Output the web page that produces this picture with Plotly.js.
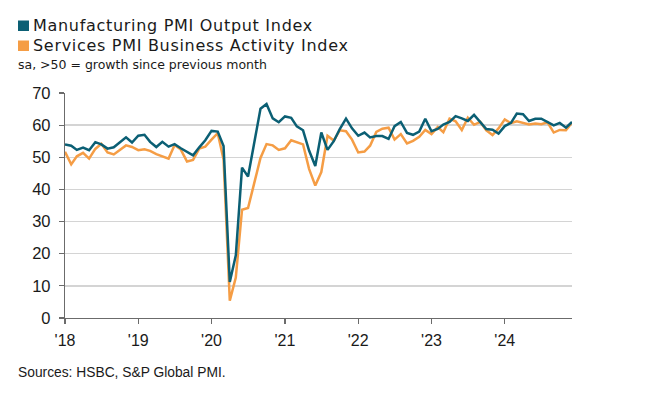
<!DOCTYPE html>
<html>
<head>
<meta charset="utf-8">
<script src="https://cdn.plot.ly/plotly-3.0.1.min.js"></script>
<style>
html,body{margin:0;padding:0;background:#fff;}
#chart{width:655px;height:395px;}
</style>
</head>
<body>
<div id="chart"></div>
<script>
// Monthly data, Jan 2018 - Dec 2024
const years = [2018, 2019, 2020, 2021, 2022, 2023, 2024];

const manufacturing = [
  54.0, 53.6, 52.3, 53.0, 52.2, 54.7, 54.0, 52.7, 53.1, 54.5, 56.2, 54.6,
  56.7, 57.0, 54.8, 53.2, 54.8, 53.3, 54.1, 52.8, 51.6, 50.6, 53.1, 55.3,
  58.2, 58.0, 53.5, 11.2, 19.5, 46.8, 44.0, 54.5, 65.1, 66.6, 62.1, 60.9,
  62.7, 62.3, 59.6, 58.4, 52.1, 47.3, 57.7, 52.3, 55.0, 58.8, 62.0, 59.0,
  56.7, 57.7, 56.2, 56.6, 56.6, 55.7, 59.7, 61.0, 57.6, 57.0, 58.0, 62.0,
  58.1, 58.8, 60.2, 61.0, 62.8, 62.1, 61.3, 63.2, 61.0, 58.8, 58.6, 57.4,
  59.7, 60.7, 63.6, 63.4, 61.3, 62.0, 62.0, 61.0, 59.9, 60.7, 59.2, 61.0
];

const services = [
  51.7, 47.8, 50.3, 51.4, 49.6, 52.6, 54.2, 51.5, 50.9, 52.2, 53.7, 53.2,
  52.2, 52.5, 52.0, 51.0, 50.2, 49.6, 53.8, 52.4, 48.7, 49.2, 52.7, 53.3,
  55.5, 57.5, 49.3, 5.4, 12.6, 33.7, 34.2, 41.8, 49.8, 54.1, 53.7, 52.3,
  52.8, 55.3, 54.6, 54.0, 46.4, 41.2, 45.4, 56.7, 55.2, 58.4, 58.1, 55.5,
  51.5, 51.8, 53.6, 57.9, 58.9, 59.2, 55.5, 57.2, 54.3, 55.1, 56.4, 58.5,
  57.2, 59.4, 57.8, 62.0, 61.2, 58.5, 62.3, 60.1, 61.0, 58.4, 56.9, 59.0,
  61.8, 60.6, 61.2, 60.8, 60.2, 60.5, 60.3, 60.9, 57.7, 58.5, 58.4, 60.8
];

const tickLabels = ["'18", "'19", "'20", "'21", "'22", "'23", "'24"];
const seriesNames = ["Manufacturing PMI Output Index", "Services PMI Business Activity Index"];
const subtitle = "sa, >50 = growth since previous month";
const source = "Sources: HSBC, S&P Global PMI.";

// month dates
const months = [];
years.forEach(y => {
  for (let m = 1; m <= 12; m++) months.push(y + '-' + String(m).padStart(2, '0') + '-01');
});
const tickVals = years.map(y => y + '-01-01');

const TEAL = '#0b5f74';
const ORANGE = '#f59d45';

const W = 655, H = 395;
const M = {l: 65, r: 83, t: 93, b: 77};
const pw = W - M.l - M.r, ph = H - M.t - M.b;
const px = x => (x - M.l) / pw;
const py = y => (H - M.b - y) / ph;

const spaced = t => '<span style="letter-spacing:0.7px">' + t + '</span>';

const traces = [
  {x: months, y: services, type: 'scatter', mode: 'lines', name: seriesNames[1],
   line: {color: ORANGE, width: 2.5}},
  {x: months, y: manufacturing, type: 'scatter', mode: 'lines', name: seriesNames[0],
   line: {color: TEAL, width: 2.5}}
];

const layout = {
  width: W, height: H,
  margin: M,
  paper_bgcolor: '#fff', plot_bgcolor: '#fff',
  showlegend: false,
  font: {family: 'Liberation Sans, Arial, sans-serif', color: '#1a1a1a'},
  xaxis: {
    type: 'date',
    range: [months[0], months[months.length - 1]],
    tickvals: tickVals, ticktext: tickLabels,
    showgrid: false, zeroline: false,
    showline: true, linecolor: '#6b6b6b', linewidth: 1.2,
    ticks: 'outside', ticklen: 5, tickcolor: '#6b6b6b', tickwidth: 1.2,
    ticklabelstandoff: 3,
    tickfont: {size: 16, family: 'Liberation Sans, Arial, sans-serif', color: '#1a1a1a'}
  },
  yaxis: {
    range: [0, 70], dtick: 10, tick0: 0,
    showgrid: true, gridcolor: '#d4d4d4', gridwidth: 1.5,
    zeroline: false,
    showline: true, linecolor: '#6b6b6b', linewidth: 1.2,
    ticks: 'outside', ticklen: 5, tickcolor: '#6b6b6b', tickwidth: 1.2,
    ticklabelstandoff: 5,
    tickfont: {size: 16.5, family: 'Liberation Sans, Arial, sans-serif', color: '#1a1a1a'}
  },
  shapes: [
    {type: 'rect', xref: 'paper', yref: 'paper', x0: px(18), x1: px(29), y0: py(31), y1: py(20.5),
     fillcolor: TEAL, line: {width: 0}},
    {type: 'rect', xref: 'paper', yref: 'paper', x0: px(18), x1: px(29), y0: py(51), y1: py(40.5),
     fillcolor: ORANGE, line: {width: 0}}
  ],
  annotations: [
    {xref: 'paper', yref: 'paper', x: px(31), y: py(25.5), xanchor: 'left', yanchor: 'middle',
     text: spaced(seriesNames[0]), showarrow: false,
     font: {family: 'DejaVu Sans', size: 16, color: '#1a1a1a'}},
    {xref: 'paper', yref: 'paper', x: px(31), y: py(45.5), xanchor: 'left', yanchor: 'middle',
     text: spaced(seriesNames[1]), showarrow: false,
     font: {family: 'DejaVu Sans', size: 16, color: '#1a1a1a'}},
    {xref: 'paper', yref: 'paper', x: px(16), y: py(64), xanchor: 'left', yanchor: 'middle',
     text: subtitle, showarrow: false,
     font: {family: 'DejaVu Sans', size: 12.5, color: '#1a1a1a'}},
    {xref: 'paper', yref: 'paper', x: px(16), y: py(372), xanchor: 'left', yanchor: 'middle',
     text: source, showarrow: false,
     font: {family: 'Liberation Sans, Arial, sans-serif', size: 13.8, color: '#1a1a1a'}}
  ]
};

Plotly.newPlot('chart', traces, layout, {staticPlot: true, displayModeBar: false});
</script>
</body>
</html>
